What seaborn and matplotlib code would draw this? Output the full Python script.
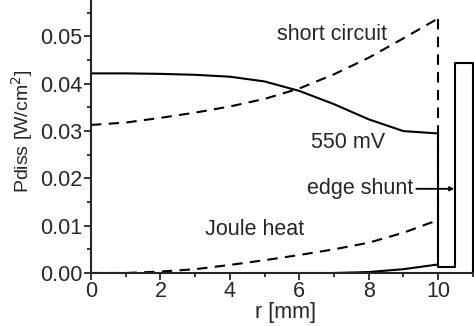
import numpy as np
import pandas as pd
import matplotlib
matplotlib.use("Agg")
import matplotlib.pyplot as plt
import seaborn as sns
from matplotlib.ticker import MultipleLocator, FormatStrFormatter

# ─── Data ───────────────────────────────────────────────────────────────────
r_mm = [0, 1, 2, 3, 4, 5, 6, 7, 8, 9, 10]
p_550mv = [0.0422, 0.0422, 0.0421, 0.0419, 0.0415, 0.0405, 0.0385, 0.0357, 0.0325, 0.0300, 0.0295]
p_short = [0.0313, 0.0318, 0.0328, 0.0339, 0.0352, 0.0368, 0.0390, 0.0420, 0.0455, 0.0496, 0.0538]
p_joule = [0.0, 0.0, 0.0003, 0.0008, 0.0017, 0.0027, 0.0038, 0.0050, 0.0064, 0.0085, 0.0112]

# joule heat at 550 mV (near zero until ~7 mm)
r_joule_550 = [7, 8, 9, 10]
p_joule_550 = [0.0, 0.0002, 0.0008, 0.0018]

# edge region: drop at r=10, shunt block 10.5..11
r_edge = [10, 10, 10.5, 10.5, 11.0, 11.0]
p_edge = [0.0295, 0.0012, 0.0012, 0.0443, 0.0443, 0.0]
r_short_edge = [10, 10]
p_short_edge = [0.0538, 0.0115]

y_ticks = [0.0, 0.01, 0.02, 0.03, 0.04, 0.05]
x_ticks = [0, 2, 4, 6, 8, 10]

# ─── Style ──────────────────────────────────────────────────────────────────
sns.set_style("ticks")
plt.rcParams["font.family"] = ["Liberation Sans", "DejaVu Sans"]

fig = plt.figure(figsize=(4.74, 3.26), dpi=100)
# axes runs a bit past the canvas on the right and top, like the cropped original
ax = fig.add_axes([0.192, 0.1626, 11.2 * 34.7 / 474, 0.06 * 4730 / 326])

df_main = pd.DataFrame({"r": r_mm, "p550": p_550mv, "short": p_short, "joule": p_joule})
dash = (5, 3.5)
lw = 1.5

sns.lineplot(x="r", y="p550", data=df_main, ax=ax, color="black", lw=lw)
sns.lineplot(x="r", y="short", data=df_main, ax=ax, color="black", lw=lw,
             linestyle=(0, dash))
sns.lineplot(x="r", y="joule", data=df_main, ax=ax, color="black", lw=lw,
             linestyle=(0, dash))
ax.plot(r_joule_550, p_joule_550, color="black", lw=lw)
ax.plot(r_edge, p_edge, color="black", lw=lw)
ax.plot(r_short_edge, p_short_edge, color="black", lw=lw, linestyle=(0, dash))

ax.set_xlim(0, 11.2)
ax.set_ylim(0, 0.06)
ax.set_xticks(x_ticks)
ax.xaxis.set_minor_locator(MultipleLocator(1))
ax.set_yticks(y_ticks)
ax.yaxis.set_minor_locator(MultipleLocator(0.005))
ax.yaxis.set_major_formatter(FormatStrFormatter("%.2f"))

ax.tick_params(which="major", direction="out", length=5, width=1.3, labelsize=15.5, pad=1)
ax.tick_params(which="minor", direction="out", length=3, width=1.3)
for sp in ["left", "bottom"]:
    ax.spines[sp].set_linewidth(1.5)
ax.spines["top"].set_visible(False)
ax.spines["right"].set_visible(False)

ax.set_xlabel("r [mm]", fontsize=15.5, labelpad=0)
ax.set_ylabel("Pdiss [W/cm$^2$]", fontsize=14, labelpad=4)

# ─── Annotations ────────────────────────────────────────────────────────────
ax.text(6.95, 0.0505, "short circuit", fontsize=15.5, ha="center", va="center")
ax.text(7.4, 0.0275, "550 mV", fontsize=15.5, ha="center", va="center")
ax.text(4.7, 0.0091, "Joule heat", fontsize=15.5, ha="center", va="center")
ax.annotate("edge shunt", xy=(10.47, 0.0178), xytext=(9.28, 0.0178),
            fontsize=15.5, ha="right", va="center",
            arrowprops=dict(arrowstyle="-|>", color="black", lw=1.3,
                            mutation_scale=6, shrinkA=0, shrinkB=0))

fig.savefig("out.png", dpi=100)
plt.close(fig)
